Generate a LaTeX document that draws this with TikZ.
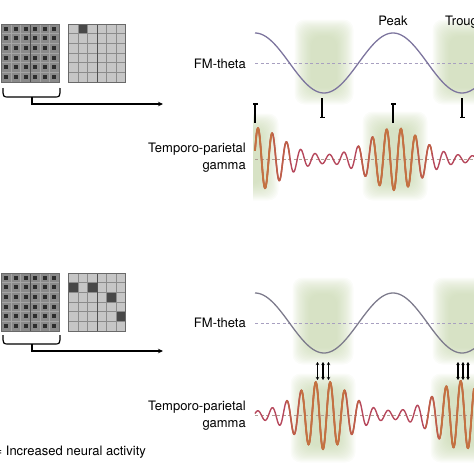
\documentclass[tikz,border=0pt]{standalone}
\usepackage{fontspec}
\setmainfont{TeX Gyre Heros}
\usetikzlibrary{arrows.meta}
\definecolor{glowc}{RGB}{195,212,168}
\definecolor{thetaA}{RGB}{125,117,158}
\definecolor{thetaB}{RGB}{125,123,140}
\definecolor{thetadash}{RGB}{168,160,192}
\definecolor{gamdash}{RGB}{176,160,150}
\definecolor{gred}{RGB}{182,72,92}
\definecolor{gmid}{RGB}{190,95,72}
\definecolor{gorange}{RGB}{196,114,64}
\definecolor{gAfill}{RGB}{138,138,138}
\definecolor{gAline}{RGB}{165,165,165}
\definecolor{gAsq}{RGB}{45,45,45}
\definecolor{gBfill}{RGB}{198,198,198}
\definecolor{gBline}{RGB}{140,140,140}
\definecolor{gBdark}{RGB}{72,72,72}
\definecolor{gborder}{RGB}{105,105,105}
\definecolor{gsep}{RGB}{80,80,80}
\newcommand\softglow[4]{%
  \foreach \k in {0,...,15}{%
    \pgfmathsetmacro\dd{(15-\k)*1.1}%
    \fill[glowc, fill opacity=0.065, rounded corners=10pt] ({#1-\dd},{#2-\dd}) rectangle ({#3+\dd},{#4+\dd});
  }}
\newcommand\gridA[2]{%
  \fill[gAfill] (#1,#2) rectangle ++(57.6,58);
  \foreach \i in {1,...,5}{
    \draw[gAline, line width=0.8pt] ({#1+\i*9.6},#2) -- ++(0,58);
    \draw[gAline, line width=0.8pt] (#1,{#2+\i*9.667}) -- ++(57.6,0);
  }
  \foreach \i in {0,...,5}{\foreach \j in {0,...,5}{
    \fill[gAsq] ({#1+\i*9.6+2.8},{#2+\j*9.667+2.8}) rectangle ++(4,4);
  }}
  \draw[gsep, line width=1pt] ({#1+28.8},#2) -- ++(0,58);
  \draw[gborder, line width=1pt] (#1,#2) rectangle ++(57.6,58);
}
\newcommand\gridB[2]{%
  \fill[gBfill] (#1,#2) rectangle ++(57.6,58);
}
\newcommand\gridBlines[2]{%
  \foreach \i in {1,...,5}{
    \draw[gBline, line width=0.8pt] ({#1+\i*9.6},#2) -- ++(0,58);
    \draw[gBline, line width=0.8pt] (#1,{#2+\i*9.667}) -- ++(57.6,0);
  }
  \draw[gsep, line width=1pt] ({#1+28.8},#2) -- ++(0,58);
  \draw[gborder, line width=1pt] (#1,#2) rectangle ++(57.6,58);
}
\tikzset{
  declare function={
    envT(\x)=3+28*exp(-((\x-255)/38)^2)+28*exp(-((\x-395)/36)^2);
    envB(\x)=3+31*exp(-((\x-323)/36)^2)+31*exp(-((\x-462)/36)^2);
  },
  lbl/.style={inner sep=0pt, font=\fontsize{13}{15}\selectfont},
  teearr/.style={line width=1.3pt, -{Tee Barb[width=5pt,length=1.5pt]}},
  dblarr/.style={line width=1.1pt, {Stealth[length=3pt,width=3.5pt]}-{Stealth[length=3pt,width=3.5pt]}},
  bracestyle/.style={line width=1.2pt, black},
}
\begin{document}
\begin{tikzpicture}[x=1pt,y=-1pt]
\useasboundingbox (0,0) rectangle (474,474);
\clip (0,0) rectangle (474,474);

% ---------- glows ----------
\softglow{311}{36}{337}{88}
\softglow{449}{36}{480}{88}
\begin{scope}
\clip (253,100) rectangle (300,200);
\softglow{244}{130}{262}{184}
\end{scope}
\softglow{379}{128}{411}{184}
\softglow{309}{294}{337}{348}
\softglow{449}{294}{480}{348}
\softglow{307}{390}{339}{446}
\softglow{447}{390}{482}{446}

% ---------- grids ----------
\gridA{1.5}{24}
\gridB{68.3}{24}
\fill[gBdark] ({68.3+1*9.6},24) rectangle ++(9.6,9.667);
\gridBlines{68.3}{24}

\gridA{1.5}{273}
\gridB{68.3}{273}
\fill[gBdark] ({68.3+0*9.6},{273+1*9.667}) rectangle ++(9.6,9.667);
\fill[gBdark] ({68.3+2*9.6},{273+1*9.667}) rectangle ++(9.6,9.667);
\fill[gBdark] ({68.3+4*9.6},{273+2*9.667}) rectangle ++(9.6,9.667);
\fill[gBdark] ({68.3+5*9.6},{273+4*9.667}) rectangle ++(9.6,9.667);
\gridBlines{68.3}{273}

% ---------- braces and arrows ----------
\coordinate (br1s) at (32,97);
\coordinate (br1c) at (32,104);
\coordinate (br1e) at (163,104);
\draw[bracestyle] (3,88) .. controls (3,97) .. (9,97) -- (54,97) .. controls (60,97) .. (60,88);
\draw[bracestyle, -{Stealth[length=5pt,width=4.5pt]}] (br1s) -- (br1c) -- (br1e);

\coordinate (br2s) at (32,344);
\coordinate (br2c) at (32,351);
\coordinate (br2e) at (163,351);
\draw[bracestyle] (3,335) .. controls (3,344) .. (9,344) -- (54,344) .. controls (60,344) .. (60,335);
\draw[bracestyle, -{Stealth[length=5pt,width=4.5pt]}] (br2s) -- (br2c) -- (br2e);

% ---------- labels ----------
\node[lbl, anchor=base east] (thetaL1) at (246,68) {FM-theta};
\node[lbl, anchor=base east] (gamL1a) at (246,152) {Temporo-parietal};
\node[lbl, anchor=base east] (gamL1b) at (246,169) {gamma};
\node[lbl, anchor=base] (peakL) at (393,25) {Peak};
\node[lbl, anchor=base west] (troughL) at (445,25) {Trough};
\node[lbl, anchor=base east] (thetaL2) at (246,327) {FM-theta};
\node[lbl, anchor=base east] (gamL2a) at (246,410) {Temporo-parietal};
\node[lbl, anchor=base east] (gamL2b) at (246,427) {gamma};
\node[lbl, anchor=base west] (legend) at (-5.5,455) {=\ Increased neural activity};

% ---------- theta ----------
\draw[thetadash, line width=0.8pt, dash pattern=on 3pt off 2.5pt] (255,63) -- (474,63);
\draw[thetaA, line width=1.3pt] plot[domain=255:474, samples=220] (\x, {63-30*cos((\x-255)/138*360)});
\draw[thetadash, line width=0.8pt, dash pattern=on 3pt off 2.5pt] (255,323) -- (474,323);
\draw[thetaB, line width=1.3pt] plot[domain=255:474, samples=220] (\x, {323-30*cos((\x-255)/138*360)});

% ---------- gamma top ----------
\draw[gamdash, line width=0.8pt, dash pattern=on 3pt off 2.5pt] (255,159) -- (474,159);
\draw[gred, line width=1.4pt] plot[domain=255:474, samples=700] (\x, {159-envT(\x)*sin((\x-254.4)/14.3*360)});
\begin{scope}
\clip (250,100) rectangle (290,200) (358,100) rectangle (432,200);
\draw[gmid, line width=1.6pt] plot[domain=255:474, samples=700] (\x, {159-envT(\x)*sin((\x-254.4)/14.3*360)});
\end{scope}
\begin{scope}
\clip (250,100) rectangle (272,200) (373,100) rectangle (417,200);
\draw[gorange, line width=1.8pt] plot[domain=255:474, samples=700] (\x, {159-envT(\x)*sin((\x-254.4)/14.3*360)});
\end{scope}

% ---------- gamma bottom ----------
\draw[gamdash, line width=0.8pt, dash pattern=on 3pt off 2.5pt] (255,415) -- (474,415);
\draw[gred, line width=1.4pt] plot[domain=255:474, samples=700] (\x, {415-envB(\x)*sin((\x-312.1)/14.5*360)});
\begin{scope}
\clip (286,360) rectangle (360,470) (425,360) rectangle (480,470);
\draw[gmid, line width=1.6pt] plot[domain=255:474, samples=700] (\x, {415-envB(\x)*sin((\x-312.1)/14.5*360)});
\end{scope}
\begin{scope}
\clip (301,360) rectangle (345,470) (440,360) rectangle (480,470);
\draw[gorange, line width=1.8pt] plot[domain=255:474, samples=700] (\x, {415-envB(\x)*sin((\x-312.1)/14.5*360)});
\end{scope}

% ---------- top tee arrows ----------
\coordinate (ta1) at (255,123); \coordinate (tb1) at (255,103);
\coordinate (ta2) at (322,98);  \coordinate (tb2) at (322,118);
\coordinate (ta3) at (393,123); \coordinate (tb3) at (393,103);
\coordinate (ta4) at (462,98);  \coordinate (tb4) at (462,118);
\draw[teearr] (ta1) -- (tb1);
\draw[teearr] (ta2) -- (tb2);
\draw[teearr] (ta3) -- (tb3);
\draw[teearr] (ta4) -- (tb4);

% ---------- bottom double arrows ----------
\foreach \xx [count=\n] in {317.5,323,328.5,458,463,468}{
  \coordinate (da\n) at (\xx,362);
  \coordinate (db\n) at (\xx,380);
  \draw[dblarr] (da\n) -- (db\n);
}
\end{tikzpicture}
\end{document}
